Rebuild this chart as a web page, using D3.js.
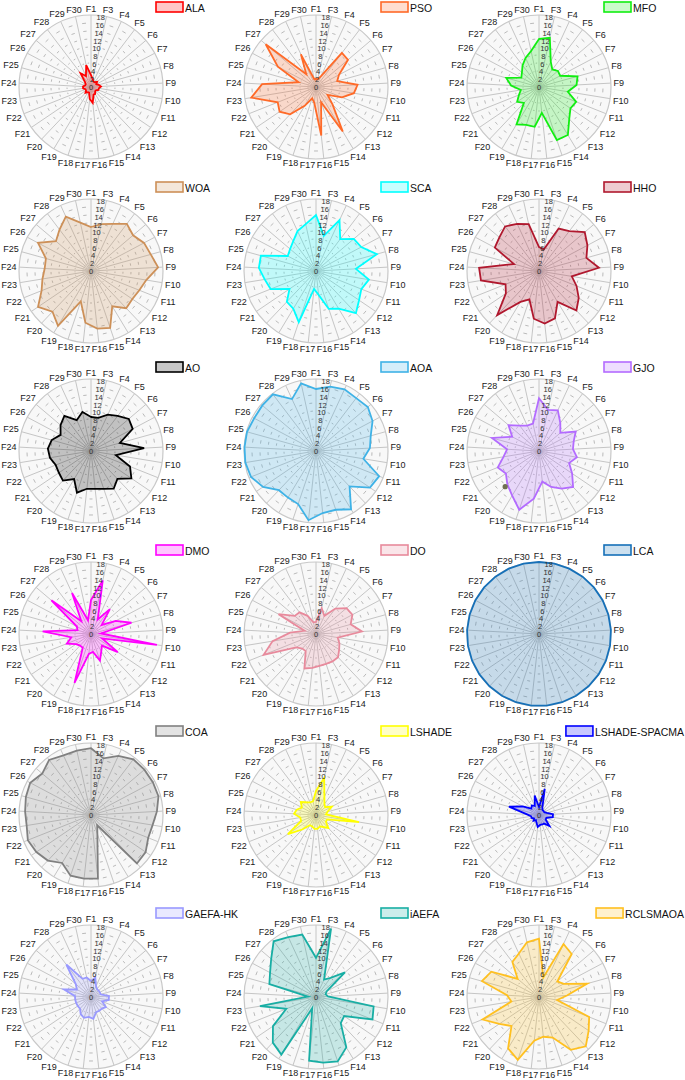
<!DOCTYPE html>
<html>
<head>
<meta charset="utf-8">
<script src="https://cdn.jsdelivr.net/npm/d3@7/dist/d3.min.js"></script>
<style>
	body { margin: 0; background: #fff; }
	svg { font-family: "Liberation Sans", Arial, sans-serif; }
</style>
</head>
<body>
<div id="chart-area"></div>
<script>
// axis labels (CEC2017, F2 left out)
var functions = ["F1","F3","F4","F5","F6","F7","F8","F9","F10","F11","F12","F13","F14","F15",
	"F16","F17","F18","F19","F20","F21","F22","F23","F24","F25","F26","F27","F28","F29","F30"];

var radialTicks = [0, 2, 4, 6, 8, 10, 12, 14, 16, 18];

// rank of each algorithm on F1, F3 ... F30
var ALA = [3,2,1.5,1.5,2,1.5,2,2.5,2,2,1.5,1.5,2,2,4,3,1.5,1.5,2,1.5,1.5,2,2,1.5,1.5,2,4.3,3,5.6];
var PSO = [2,2,3,10.7,10.5,6.5,5.5,10.4,9.6,7,3.5,6,13,4,12.2,4,3,5.5,9.4,11,10.3,16.4,13.5,4.5,10.8,16.5,4,9,2];
var MFO = [12,12.6,7,5.5,6.2,6,10,9.4,7.3,10,9.5,11,14,14,6.5,10,10,10.9,5.5,6.6,5.4,4.6,7,8.5,5,5.6,6.8,8,9.2];
var WOA = [11,12,13,14.8,13.8,15,15.5,16.8,14,13,12.5,12.8,10.3,15,14.5,13,8,16,14,16,13.3,12.3,11.6,11.7,15,11.5,13,15,12.4];
var SCA = [14,9,14,10,12.4,12.8,15.8,10,13.4,12.2,13,14.5,11,10,6,4.5,13.5,11,10.6,8,12.2,13,14.3,14.3,8,8.5,9.4,11,12];
var HHO = [6,5.5,11.7,12.5,15,13.7,12.3,15,8.3,10.1,12,13.6,9,12.5,13.2,12,7.5,9,15.2,10,9,14.7,15,6.5,12.5,13,14,13,12];
var AO = [8.5,8.5,10,11,12.4,11.8,7.5,13.3,6.3,10.5,12.2,9.6,11,10,9.5,9.5,11,8.2,10.2,9.7,9.5,10.4,10.8,10.2,8.6,10,11,8.5,10];
var AOA = [15.5,16.5,17,16.6,17,16,14.2,13.5,12,17,16.3,12.2,17,15.5,15.6,17.4,14,13.6,13.5,16,17.5,17.9,17.9,17.9,17.5,17.6,17.8,14.3,17.3];
var GJO = [13.2,10.5,11.2,8.8,7,10.4,9,8.5,9.6,8.1,10,12.4,11,9.5,7.7,12,15.5,13,11.5,10,11.1,9,8,12.2,7.6,10,8,7,7];
var DMO = [8.5,13.7,4,7.8,3.5,7,10.5,2.5,16.7,3,8.1,4,5,7,4.5,5,12.9,4,4,4.5,6.5,5,12.1,3.5,4,13,4,11.3,3.5];
var DO = [3,6.6,5,8,10,10.3,9,11.5,5.5,6.3,7,8,8,7.9,8,8.5,9.1,5,5,6,14.1,11,6.5,3,10.6,7,6.8,5,3];
var LCA = [18,18,18,18,18,18,18,18,18,18,18,18,18,18,18,18,18,18,18,18,18,18,18,18,18,18,18,18,18];
var COA = [16.7,14.5,16.3,17.5,17.5,17.5,17.5,16.5,15.6,15.4,16.5,16.7,3,5,16,16,16,14,15.7,16.5,17,16.3,16.5,16.9,17.2,16,17.3,16.4,16.5];
var LSHADE = [6,9.5,5,3.5,3,4.5,3,2.5,10.9,3,3,4.5,3.5,3,3.5,3.5,3,3,5,8.5,4,4,5.5,5,4,5,4,3.5,3.5];
var LSHADE_SPACMA = [2,6.7,2,1.5,1.5,1.5,2,3.5,3.5,2,2,3.8,2.5,2.5,2.5,3,2,1.5,2,1.5,2,2,3,7.8,4.6,2.5,3,2.5,5];
var GAEFA_HK = [4,5,3,2.5,2.5,2.5,2.5,4.5,4.5,3,4.5,4,4,4,5.5,5,5.5,5,4,4,4,4,4,7,4,5,10.2,5,5];
var iAEFA = [9.8,17.5,4.8,6,9.5,3,2.5,3,14.6,15.2,8.5,9,14.7,17,16.5,16,3,16.8,15.7,13,8,14.2,2,12.1,13,14.7,17.5,16.5,16];
var RCLSMAOA = [14.6,5,14.6,13.5,6,7,12.5,7,4.6,13.5,15,17,15.4,10.7,10,11,16.6,15,10,12,15.2,7,8,14.8,13.5,7,11,12,14];

var algorithms = ["ALA","PSO","MFO","WOA","SCA","HHO","AO","AOA","GJO",
	"DMO","DO","LCA","COA","LSHADE","LSHADE-SPACMA","GAEFA-HK","iAEFA","RCLSMAOA"];
var seriesValues = [ALA, PSO, MFO, WOA, SCA, HHO, AO, AOA, GJO,
	DMO, DO, LCA, COA, LSHADE, LSHADE_SPACMA, GAEFA_HK, iAEFA, RCLSMAOA];

// stray marker on the GJO panel
var gjoMarker = {axis: "F20", value: 12.3};

//colors
var strokeColors = ["#ff0000","#ff6a28","#11ee11","#cd9058","#00ffff","#b0182e","#000000","#3fb2e6","#b36bff",
	"#ff00ff","#e88a9c","#1670b8","#808080","#ffff00","#0000ff","#9999ff","#18aea4","#ffc020"];

var width = 685, height = 1080, radius = 72;
var colX = [91, 316, 539],
	rowY = [87, 271, 451, 634, 815, 997];

var svg = d3.select("#chart-area")
	.append("svg")
		.attr("width", width)
		.attr("height", height);

//scales
var rScale = d3.scaleLinear()
		.domain([0, 18])
		.range([0, radius]);

var aScale = d3.scaleLinear()
		.domain([0, functions.length])
		.range([0, 2 * Math.PI]);

var step = aScale(1);

var radarLine = d3.lineRadial()
		.angle(function(d, i){ return aScale(i); })
		.radius(function(d){ return rScale(d); })
		.curve(d3.curveLinearClosed);

seriesValues.forEach(function(values, i){
	var cx = colX[i % 3], cy = rowY[Math.floor(i / 3)];
	var g = svg.append("g")
			.attr("transform", "translate(" + cx + "," + cy + ")");

	// background disc
	g.append("circle")
		.attr("r", radius)
		.attr("fill", "#f8f8f8");

	// dashed web: one dash per sector and ring
	radialTicks.slice(1, -1).forEach(function(t){
		functions.forEach(function(f, k){
			var p1 = d3.pointRadial(aScale(k) + step * 0.36, rScale(t)),
				p2 = d3.pointRadial(aScale(k) + step * 0.64, rScale(t));
			g.append("line")
				.attr("x1", p1[0]).attr("y1", p1[1])
				.attr("x2", p2[0]).attr("y2", p2[1])
				.attr("stroke", "#aaaaaa")
				.attr("stroke-width", 0.8);
		});
	});

	// spokes
	functions.forEach(function(f, k){
		var p = d3.pointRadial(aScale(k), radius);
		g.append("line")
			.attr("x1", 0).attr("y1", 0)
			.attr("x2", p[0]).attr("y2", p[1])
			.attr("stroke", "#b8b8b8")
			.attr("stroke-width", 0.8);
	});

	g.append("circle")
		.attr("r", radius)
		.attr("fill", "none")
		.attr("stroke", "#c8c8c8")
		.attr("stroke-width", 1.2);

	// the series
	g.append("path")
		.datum(values)
		.attr("d", radarLine)
		.attr("fill", strokeColors[i])
		.attr("fill-opacity", 0.22)
		.attr("stroke", strokeColors[i])
		.attr("stroke-width", 1.8)
		.attr("stroke-linejoin", "miter");

	if (algorithms[i] == "GJO") {
		var m = d3.pointRadial(aScale(functions.indexOf(gjoMarker.axis)), rScale(gjoMarker.value));
		g.append("circle")
			.attr("cx", m[0]).attr("cy", m[1])
			.attr("r", 2.6)
			.attr("fill", "#6f6f52");
	}

	// radial tick labels, along a slightly tilted ray
	radialTicks.forEach(function(t){
		var p = d3.pointRadial(0.14, rScale(t) * 0.97);
		g.append("text")
			.attr("x", p[0])
			.attr("y", p[1])
			.attr("dy", "0.35em")
			.attr("font-size", "7.5px")
			.attr("fill", "#333")
			.attr("text-anchor", "middle")
			.text(t);
	});

	// function labels
	functions.forEach(function(f, k){
		var a = aScale(k);
		var halfW = f.length * 2.6, halfH = 3.4;
		var rl = radius + 2.5 + Math.abs(Math.sin(a)) * halfW + Math.abs(Math.cos(a)) * halfH;
		var p = d3.pointRadial(a, rl);
		g.append("text")
			.attr("x", p[0])
			.attr("y", p[1])
			.attr("dy", "0.35em")
			.attr("font-size", "9px")
			.attr("fill", "#1a1a1a")
			.attr("text-anchor", "middle")
			.text(f);
	});

	// legend
	var legend = svg.append("g");
	legend.append("rect")
		.attr("width", 27)
		.attr("height", 10)
		.attr("fill", strokeColors[i])
		.attr("fill-opacity", 0.22)
		.attr("stroke", strokeColors[i])
		.attr("stroke-width", 1.6);
	var label = legend.append("text")
		.attr("x", 29)
		.attr("y", 9.5)
		.attr("font-size", "10.5px")
		.attr("fill", "#111")
		.text(algorithms[i]);
	var lx = cx + 65;
	var textW = label.node().getComputedTextLength();
	if (lx + 29 + textW > width - 1) lx = width - 1 - 29 - textW;
	legend.attr("transform", "translate(" + lx + "," + Math.max(2, cy - 89) + ")");
});
</script>
</body>
</html>
